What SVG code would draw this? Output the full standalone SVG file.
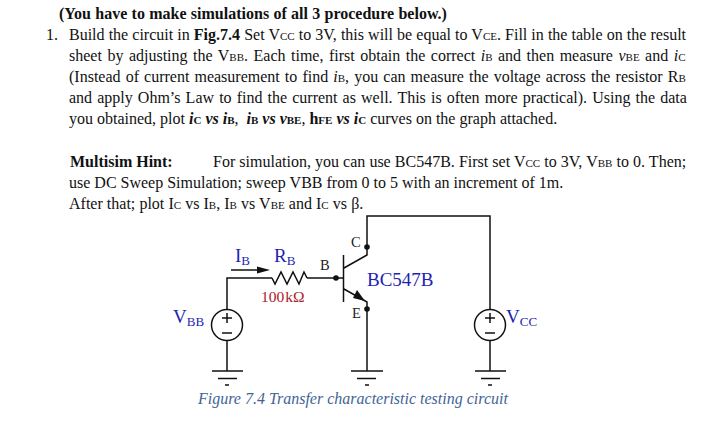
<svg xmlns="http://www.w3.org/2000/svg" width="724" height="435" viewBox="0 0 724 435">
<style>
text{font-family:"Liberation Serif","Times New Roman",serif;fill:#111}
.t{font-size:16px}
.s{font-size:11px}
.b{font-weight:bold}
.i{font-style:italic}
.w{fill:none;stroke:#111;stroke-width:1.5}
.d{fill:#111}
.blue{fill:#1f1fb4;font-size:19px}
.sub{font-size:13px}
.pin{font-size:14.5px;fill:#222}
</style>
<rect width="724" height="435" fill="#fff"/>
<g id="page-text" class="t">
<text x="59" y="19" class="b" word-spacing="0.3px">(You have to make simulations of all 3 procedure below.)</text>
<text x="46" y="40">1.</text>
<text x="69" y="40" word-spacing="0.1px">Build the circuit in <tspan class="b">Fig.7.4</tspan> Set V<tspan class="s">CC</tspan> to 3V, this will be equal to V<tspan class="s">CE</tspan>. Fill in the table on the result</text>
<text x="69" y="61" word-spacing="1.5px">sheet by adjusting the V<tspan class="s">BB</tspan>. Each time, first obtain the correct <tspan class="i">i</tspan><tspan class="s">B</tspan> and then measure <tspan class="i">v</tspan><tspan class="s">BE</tspan> and <tspan class="i">i</tspan><tspan class="s">C</tspan></text>
<text x="69" y="82" word-spacing="1.1px">(Instead of current measurement to find <tspan class="i">i</tspan><tspan class="s">B</tspan>, you can measure the voltage across the resistor R<tspan class="s">B</tspan></text>
<text x="69" y="103" word-spacing="1.1px">and apply Ohm’s Law to find the current as well. This is often more practical). Using the data</text>
<text x="69" y="124" xml:space="preserve">you obtained, plot <tspan class="b i">i</tspan><tspan class="s b">C</tspan><tspan class="b i"> vs i</tspan><tspan class="s b">B</tspan>,  <tspan class="b i">i</tspan><tspan class="s b">B</tspan><tspan class="b i"> vs v</tspan><tspan class="s b">BE</tspan>, <tspan class="b">h</tspan><tspan class="s b">FE</tspan><tspan class="b i"> vs i</tspan><tspan class="s b">C</tspan> curves on the graph attached.</text>
<text x="70" y="167" class="b">Multisim Hint:</text>
<text x="213" y="167" word-spacing="0.1px">For simulation, you can use BC547B. First set V<tspan class="s">CC</tspan> to 3V, V<tspan class="s">BB</tspan> to 0. Then;</text>
<text x="69" y="188">use DC Sweep Simulation; sweep VBB from 0 to 5 with an increment of 1m.</text>
<text x="69" y="209" word-spacing="0.1px">After that; plot I<tspan class="s">C</tspan> vs I<tspan class="s">B</tspan>, I<tspan class="s">B</tspan> vs V<tspan class="s">BE</tspan> and I<tspan class="s">C</tspan> vs β.</text>
</g>
<g id="connectors">
<path class="w" d="M227 309V278H272M307 278H336M227 341V371M367 247V216H490V309M490 341V371M367 309V371"/>
<path class="w" d="M231 270H258"/>
<path class="d" d="M270 270L257 266.500V273.500Z"/>
</g>
<g id="rb"><path class="w" d="M272 278L275 284L281 272L287 284L293 272L299 284L304 272L307 278"/>
<text x="274" y="262" class="blue">R<tspan class="sub" dy="3">B</tspan></text>
<text x="261" y="302" font-size="15.500" style="fill:#a8232a">100<tspan dx="1">kΩ</tspan></text></g>
<g id="ib"><text x="235" y="262" class="blue">I<tspan class="sub" dy="3">B</tspan></text></g>
<g id="vbb"><circle class="w" cx="227" cy="325" r="15.500"/><path class="w" d="M222 318H232M227 313V323M222 333H232"/>
<text x="173" y="323" class="blue">V<tspan class="sub" dy="3">BB</tspan></text></g>
<g id="vcc"><circle class="w" cx="490" cy="325" r="15.500"/><path class="w" d="M485 318H495M490 313V323M485 333H495"/>
<text x="506" y="323" class="blue">V<tspan class="sub" dy="3">CC</tspan></text></g>
<g id="transistor">
<path class="w" d="M343.500 255V302M336 278H343.500M344 268L367 255V247M344 289L367 302V309"/>
<path class="d" d="M365 301L353 298L357 290Z"/>
<circle class="d" cx="336" cy="278" r="2.800"/><circle class="d" cx="367" cy="247" r="2.800"/><circle class="d" cx="367" cy="309" r="2.800"/>
<text x="320" y="270" class="pin">B</text><text x="351" y="247" class="pin">C</text><text x="352" y="318" class="pin">E</text>
<text x="367" y="286" class="blue">BC547B</text></g>
<g id="gnd-vbb"><path class="w" d="M212 371H243M218 378.500H237M225 385H229"/></g>
<g id="gnd-e"><path class="w" d="M351 371H383M357 378.500H376M365 385H369"/></g>
<g id="gnd-vcc"><path class="w" d="M475 371H506M481 378.500H500M488 385H492"/></g>
<text id="caption" x="198" y="404" font-size="16" class="i" style="fill:#3f6496">Figure 7.4 Transfer characteristic testing circuit</text>
</svg>
